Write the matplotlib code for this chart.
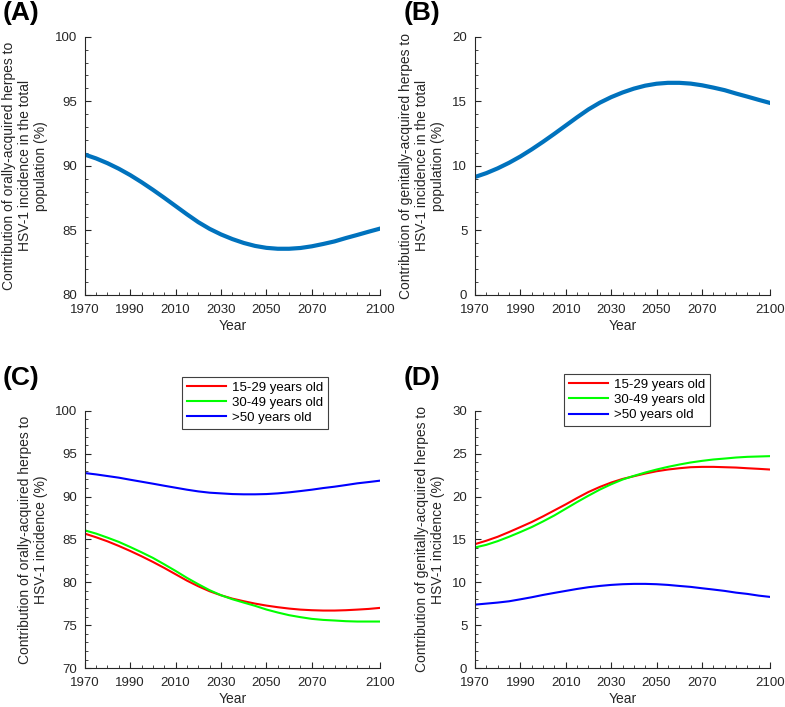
import numpy as np
import matplotlib
matplotlib.use('Agg')
import matplotlib.pyplot as plt
from matplotlib.ticker import MultipleLocator, FixedLocator

plt.rcParams['font.family'] = ['Liberation Sans', 'DejaVu Sans']

# 数据 (每5年读取一次)
years = [1970, 1975, 1980, 1985, 1990, 1995, 2000, 2005, 2010, 2015, 2020, 2025, 2030, 2035,
         2040, 2045, 2050, 2055, 2060, 2065, 2070, 2075, 2080, 2085, 2090, 2095, 2100]

oral_total = [90.87, 90.57, 90.20, 89.77, 89.28, 88.73, 88.14, 87.52, 86.88, 86.24, 85.63, 85.11, 84.68, 84.32,
              84.02, 83.79, 83.64, 83.57, 83.57, 83.63, 83.76, 83.94, 84.14, 84.40, 84.64, 84.89, 85.13]
genital_total = [9.13, 9.43, 9.80, 10.23, 10.72, 11.27, 11.86, 12.48, 13.12, 13.76, 14.37, 14.89, 15.32, 15.68,
                 15.98, 16.21, 16.36, 16.43, 16.43, 16.37, 16.24, 16.06, 15.86, 15.60, 15.36, 15.11, 14.87]

oral_15_29 = [85.68, 85.25, 84.78, 84.24, 83.66, 83.04, 82.38, 81.68, 80.94, 80.20, 79.54, 78.96, 78.49, 78.10,
              77.80, 77.52, 77.29, 77.10, 76.94, 76.82, 76.75, 76.71, 76.71, 76.75, 76.82, 76.90, 77.02]
oral_30_49 = [86.06, 85.68, 85.21, 84.71, 84.12, 83.50, 82.85, 82.10, 81.33, 80.52, 79.78, 79.08, 78.50, 78.03,
              77.64, 77.26, 76.83, 76.48, 76.17, 75.94, 75.74, 75.62, 75.55, 75.47, 75.43, 75.43, 75.43]
oral_50 = [92.74, 92.58, 92.39, 92.20, 91.96, 91.73, 91.50, 91.26, 91.03, 90.80, 90.60, 90.45, 90.37, 90.29,
           90.26, 90.26, 90.29, 90.37, 90.49, 90.64, 90.80, 90.99, 91.15, 91.34, 91.54, 91.69, 91.85]

gen_15_29 = [14.45, 14.85, 15.31, 15.86, 16.44, 17.03, 17.69, 18.39, 19.09, 19.83, 20.53, 21.12, 21.63, 22.05,
             22.37, 22.68, 22.95, 23.15, 23.30, 23.42, 23.46, 23.46, 23.42, 23.38, 23.30, 23.23, 23.15]
gen_30_49 = [14.06, 14.37, 14.80, 15.31, 15.86, 16.44, 17.10, 17.80, 18.58, 19.36, 20.10, 20.81, 21.43, 21.98,
             22.41, 22.80, 23.15, 23.46, 23.73, 23.97, 24.16, 24.32, 24.43, 24.55, 24.63, 24.67, 24.71]
gen_50 = [7.40, 7.52, 7.64, 7.79, 8.02, 8.26, 8.53, 8.77, 9.00, 9.23, 9.43, 9.58, 9.70, 9.78,
          9.82, 9.82, 9.78, 9.70, 9.58, 9.47, 9.31, 9.16, 9.00, 8.80, 8.65, 8.45, 8.30]

age_labels = ['15-29 years old', '30-49 years old', '>50 years old']
age_colors = ['#ff0000', '#00ff00', '#0000ff']
xtick_years = [1970, 1990, 2010, 2030, 2050, 2070, 2100]

fig = plt.figure(figsize=(7.85, 7.07), dpi=100)

ax_a = fig.add_axes([0.108, 0.583, 0.376, 0.365])
ax_b = fig.add_axes([0.605, 0.583, 0.376, 0.365])
ax_c = fig.add_axes([0.108, 0.055, 0.376, 0.364])
ax_d = fig.add_axes([0.605, 0.055, 0.376, 0.364])


def style_axes(ax, ylim, ylabel):
    ax.set_xlim(1970, 2100)
    ax.set_ylim(*ylim)
    ax.xaxis.set_major_locator(FixedLocator(xtick_years))
    ax.xaxis.set_minor_locator(MultipleLocator(5))
    ax.yaxis.set_major_locator(MultipleLocator(5))
    ax.yaxis.set_minor_locator(MultipleLocator(1))
    ax.spines['top'].set_visible(False)
    ax.spines['right'].set_visible(False)
    for s in ['left', 'bottom']:
        ax.spines[s].set_color('#262626')
        ax.spines[s].set_linewidth(0.8)
    ax.tick_params(which='both', direction='in', colors='#262626', labelsize=9.5)
    ax.tick_params(axis='x', which='major', pad=6.5)
    ax.tick_params(axis='y', which='major', pad=5.5)
    ax.tick_params(which='major', length=4, width=0.8)
    ax.tick_params(which='minor', length=2.5, width=0.6)
    ax.set_xlabel('Year', fontsize=10, color='#262626', labelpad=2)
    ax.set_ylabel(ylabel, fontsize=10, color='#262626', linespacing=1.2, labelpad=5)


# (A)
ax_a.plot(years, oral_total, color='#0072BD', lw=3)
style_axes(ax_a, (80, 100),
           'Contribution of orally-acquired herpes to\nHSV-1 incidence in the total\npopulation (%)')

# (B)
ax_b.plot(years, genital_total, color='#0072BD', lw=3)
style_axes(ax_b, (0, 20),
           'Contribution of genitally-acquired herpes to\nHSV-1 incidence in the total\npopulation (%)')

# (C)
for vals, lab, col in zip([oral_15_29, oral_30_49, oral_50], age_labels, age_colors):
    ax_c.plot(years, vals, color=col, lw=1.5, label=lab)
style_axes(ax_c, (70, 100),
           'Contribution of orally-acquired herpes to\nHSV-1 incidence (%)')

# (D)
for vals, lab, col in zip([gen_15_29, gen_30_49, gen_50], age_labels, age_colors):
    ax_d.plot(years, vals, color=col, lw=1.5, label=lab)
style_axes(ax_d, (0, 30),
           'Contribution of genitally-acquired herpes to\nHSV-1 incidence (%)')

for ax, anchor in [(ax_c, (0.232, 0.467)), (ax_d, (0.7185, 0.471))]:
    leg = ax.legend(loc='upper left', bbox_to_anchor=anchor, bbox_transform=fig.transFigure,
                    fontsize=9.5, fancybox=False, framealpha=1, borderpad=0.35,
                    handlelength=3.0, handletextpad=0.45, labelspacing=0.22, borderaxespad=0)
    leg.get_frame().set_edgecolor('#404040')
    leg.get_frame().set_linewidth(0.8)

# 面板标签
for txt, x, y in [('(A)', 0.003, 0.999), ('(B)', 0.514, 0.999),
                  ('(C)', 0.003, 0.483), ('(D)', 0.514, 0.483)]:
    fig.text(x, y, txt, fontsize=19, fontweight='bold', va='top', ha='left')

fig.savefig('out.png', dpi=100)
